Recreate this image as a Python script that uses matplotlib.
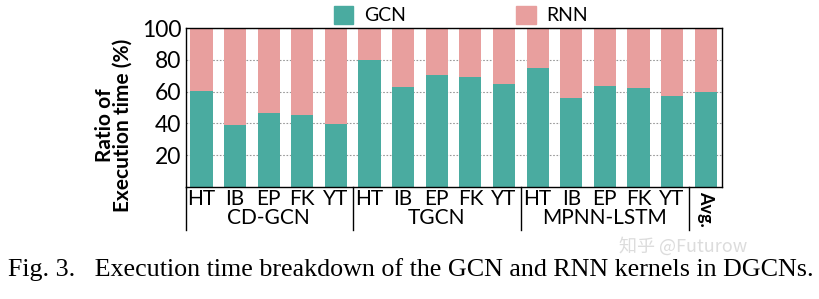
import matplotlib
matplotlib.use("Agg")
import matplotlib.pyplot as plt
from matplotlib.patches import Patch
from matplotlib.transforms import blended_transform_factory

datasets = ["HT", "IB", "EP", "FK", "YT"]
models = ["CD-GCN", "TGCN", "MPNN-LSTM"]
gcn_cdgcn = [60.6, 39.0, 46.7, 45.3, 39.8]
gcn_tgcn = [79.8, 62.7, 70.5, 69.0, 64.6]
gcn_mpnn = [75.2, 56.0, 63.8, 62.3, 57.3]
gcn_avg = [59.6]
yticks = [20, 40, 60, 80, 100]

GREEN = "#4aaba0"
PINK = "#e89f9e"

gcn = gcn_cdgcn + gcn_tgcn + gcn_mpnn + gcn_avg
rnn = [100 - v for v in gcn]
x = list(range(len(gcn)))

plt.rcParams["font.family"] = ["Lato", "DejaVu Sans"]
fig = plt.figure(figsize=(8.2, 2.99), dpi=100)
ax = fig.add_axes([0.2265, 0.3756, 0.6537, 0.5298])

ax.bar(x, gcn, width=0.66, color=GREEN, zorder=2)
ax.bar(x, rnn, bottom=gcn, width=0.66, color=PINK, zorder=2)
ax.set_xlim(-0.47, 15.48)
ax.set_ylim(0, 100)
ax.set_yticks(yticks)
ax.set_yticklabels([str(t) for t in yticks], fontsize=16.5)
ax.tick_params(axis="y", length=0, pad=3)
ax.set_xticks([])
ax.yaxis.grid(True, linestyle=(0, (1.5, 1.5)), color="#999999", linewidth=0.8, zorder=0)
for s in ax.spines.values():
    s.set_linewidth(1.0)

ax.set_ylabel("Ratio of\nExecution time (%)", fontsize=15, fontweight="bold",
              linespacing=0.85)
ax.yaxis.set_label_coords(-0.134, 0.39)
ax.yaxis.label.set_va("center")

tr = blended_transform_factory(ax.transData, ax.transAxes)
for i in range(15):
    ax.text(i, -0.078, datasets[i % 5], transform=tr, ha="center", va="center", fontsize=15)
for g, name in enumerate(models):
    ax.text(g * 5 + 2, -0.198, name, transform=tr, ha="center", va="center", fontsize=15)
ax.text(15, -0.141, "Avg.", transform=tr, ha="center", va="center", fontsize=13,
        fontweight="bold", rotation=-90)
for sx in [-0.47, 4.5, 9.5, 14.5]:
    ax.plot([sx, sx], [0, -0.274], transform=tr, color="black", linewidth=1.0, clip_on=False)

handles = [Patch(color=GREEN, label="GCN"), Patch(color=PINK, label="RNN")]
fig.legend(handles=handles, loc="upper center", bbox_to_anchor=(0.562, 1.04), ncol=2,
           frameon=False, fontsize=14, handlelength=1.0, handleheight=1.1,
           columnspacing=5.7, handletextpad=0.55)

fig.text(0.01, 0.097, "Fig. 3.   Execution time breakdown of the GCN and RNN kernels in DGCNs.",
         family="Liberation Serif", fontsize=18.7, va="center", ha="left")
fig.text(0.755, 0.175, "知乎 @Futurow", family=["Noto Sans CJK SC", "DejaVu Sans"],
         fontsize=13, color="#dcdcdc", va="center", ha="left", zorder=0)

fig.savefig("out.png", dpi=100, facecolor="white")
